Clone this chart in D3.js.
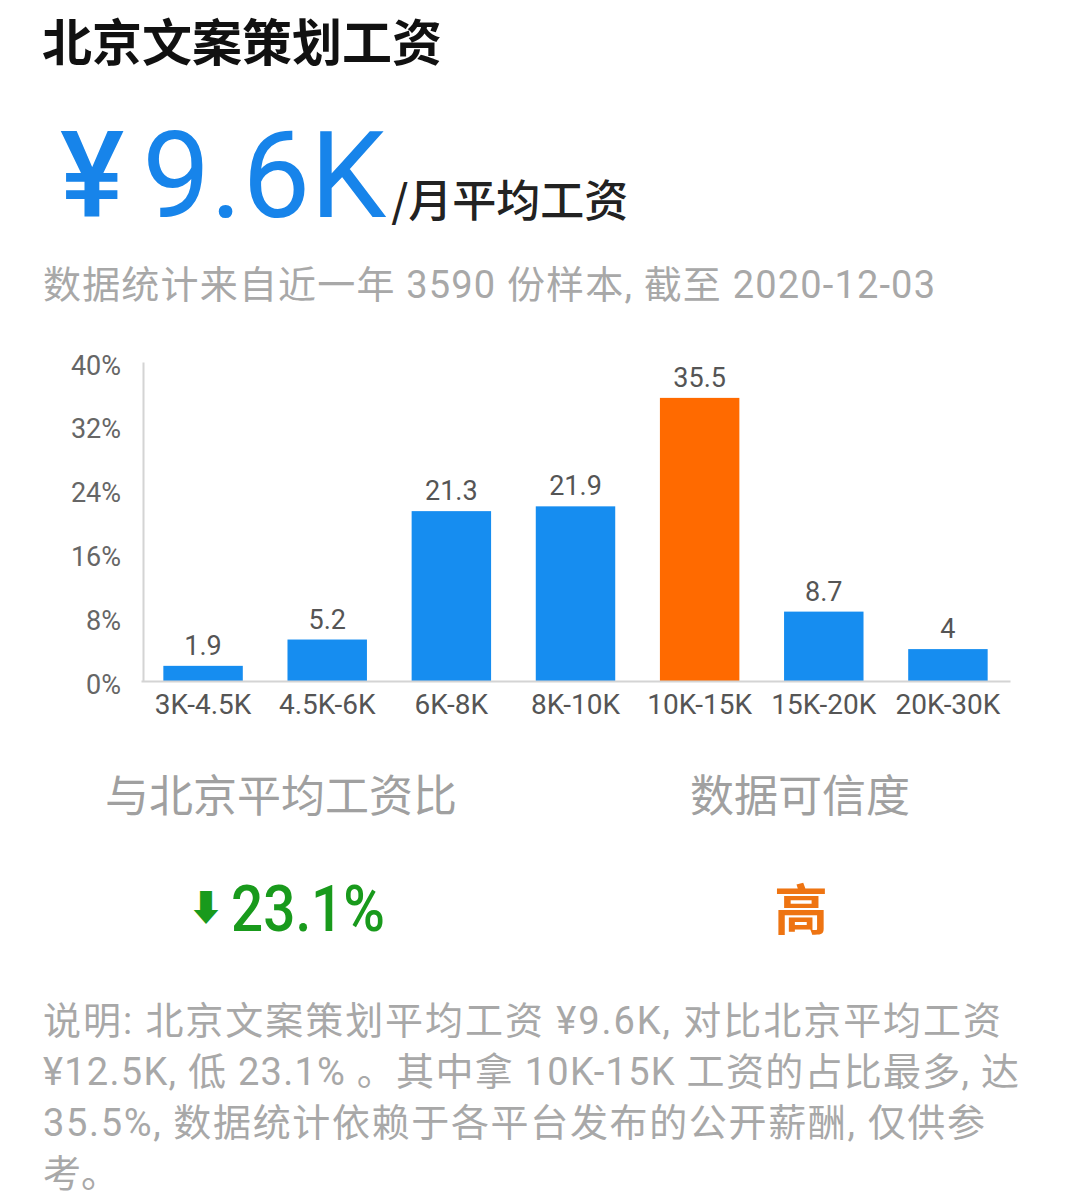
<!DOCTYPE html>
<html>
<head>
<meta charset="utf-8">
<script src="https://cdn.jsdelivr.net/npm/d3@7"></script>
<style>
  html, body { margin: 0; padding: 0; background: #fff; }
  svg { display: block; }
  text { font-family: Roboto, "Noto Sans CJK SC", sans-serif; }
</style>
</head>
<body>
<svg id="chart"></svg>
<script>
// Data
const categories = ['3K-4.5K', '4.5K-6K', '6K-8K', '8K-10K', '10K-15K', '15K-20K', '20K-30K'];
const shares = [1.9, 5.2, 21.3, 21.9, 35.5, 8.7, 4];
const yTicks = [0, 8, 16, 24, 32, 40];
const highlight = '10K-15K';

const WIDTH = 1080;
const HEIGHT = 1195;

// Chart area
const AXIS_X = 141;
const AXIS_END_X = 1010;
const BASE_Y = 681;
const TOP_Y = 362;

const BLUE = '#168df0';
const ORANGE = '#ff6a00';
const GREY_AXIS = '#d4d4d4';
const CJK = '"Noto Sans CJK SC", sans-serif';

const svg = d3.select('#chart')
  .attr('width', WIDTH)
  .attr('height', HEIGHT);

// Header
svg.append('text')
  .attr('x', 42).attr('y', 61)
  .attr('font-size', 50).attr('font-weight', 700)
  .attr('fill', '#111')
  .style('font-family', CJK)
  .text('北京文案策划工资');

const big = svg.append('text')
  .attr('x', 60).attr('y', 217)
  .attr('fill', '#1784ea')
  .attr('font-size', 121);
big.append('tspan')
  .attr('font-weight', 500)
  .text('¥');
big.append('tspan')
  .attr('dx', 18)
  .attr('font-weight', 400)
  .text('9.6K');
big.append('tspan')
  .attr('dx', 5)
  .attr('font-size', 44).attr('font-weight', 500)
  .attr('fill', '#222')
  .style('font-family', CJK)
  .text('/月平均工资');

svg.append('text')
  .attr('x', 43).attr('y', 298)
  .attr('font-size', 38)
  .attr('fill', '#a8a8a8')
  .attr('textLength', 892)
  .attr('lengthAdjust', 'spacing')
  .text('数据统计来自近一年 3590 份样本, 截至 2020-12-03');

// Scales
const x = d3.scaleBand()
  .domain(categories)
  .range([AXIS_X, AXIS_END_X])
  .paddingInner(0.36)
  .paddingOuter(0.18);

const y = d3.scaleLinear()
  .domain([0, 40])
  .range([BASE_Y, TOP_Y]);

// Axes
const yAxis = svg.append('g')
  .attr('transform', `translate(${AXIS_X + 2},0)`)
  .call(d3.axisLeft(y).tickValues(yTicks).tickSize(0).tickPadding(22).tickFormat(d => `${d}%`));
yAxis.select('.domain').attr('stroke', GREY_AXIS).attr('stroke-width', 2);
yAxis.selectAll('text')
  .attr('font-size', 27).attr('fill', '#666')
  .attr('dy', '0.45em');

// Bars
svg.append('g')
  .selectAll('rect')
  .data(categories)
  .join('rect')
  .attr('x', d => x(d))
  .attr('y', (d, i) => y(shares[i]))
  .attr('width', x.bandwidth())
  .attr('height', (d, i) => y(0) - y(shares[i]))
  .attr('fill', d => (d === highlight ? ORANGE : BLUE));

const xAxis = svg.append('g')
  .attr('transform', `translate(0,${BASE_Y})`)
  .call(d3.axisBottom(x).tickSize(0).tickPadding(13));
xAxis.select('.domain').attr('stroke', GREY_AXIS).attr('stroke-width', 2);
xAxis.selectAll('text')
  .attr('font-size', 28).attr('fill', '#555');

// Value labels
svg.append('g')
  .selectAll('text')
  .data(categories)
  .join('text')
  .attr('x', d => x(d) + x.bandwidth() / 2)
  .attr('y', (d, i) => y(shares[i]) - 11)
  .attr('text-anchor', 'middle')
  .attr('font-size', 27)
  .attr('fill', '#555')
  .text((d, i) => shares[i]);

// Comparison block
svg.append('text')
  .attr('x', 281).attr('y', 812)
  .attr('text-anchor', 'middle')
  .attr('font-size', 44).attr('fill', '#a0a0a0')
  .style('font-family', CJK)
  .text('与北京平均工资比');

svg.append('text')
  .attr('x', 800).attr('y', 812)
  .attr('text-anchor', 'middle')
  .attr('font-size', 44).attr('fill', '#a0a0a0')
  .style('font-family', CJK)
  .text('数据可信度');

svg.append('text')
  .attr('x', 188).attr('y', 921)
  .attr('font-size', 36).attr('font-weight', 700)
  .attr('fill', '#199a1c')
  .text('⬇');

svg.append('text')
  .attr('x', 231).attr('y', 931)
  .attr('font-size', 64).attr('font-weight', 500)
  .attr('fill', '#199a1c')
  .attr('textLength', 154)
  .attr('lengthAdjust', 'spacingAndGlyphs')
  .text('23.1%');

svg.append('text')
  .attr('x', 801).attr('y', 930)
  .attr('text-anchor', 'middle')
  .attr('font-size', 54).attr('font-weight', 700)
  .attr('fill', '#ee7412')
  .style('font-family', CJK)
  .text('高');

// Note
const noteLines = [
  '说明: 北京文案策划平均工资 ¥9.6K, 对比北京平均工资',
  '¥12.5K, 低 23.1% 。其中拿 10K-15K 工资的占比最多, 达',
  '35.5%, 数据统计依赖于各平台发布的公开薪酬, 仅供参',
  '考。',
];
const noteWidths = [958, 976, 942, null];
svg.append('g')
  .selectAll('text')
  .data(noteLines)
  .join('text')
  .attr('x', 43)
  .attr('y', (d, i) => 1034 + i * 51)
  .attr('font-size', 38)
  .attr('fill', '#a8a8a8')
  .attr('textLength', (d, i) => noteWidths[i])
  .attr('lengthAdjust', 'spacing')
  .text(d => d);
</script>
</body>
</html>
